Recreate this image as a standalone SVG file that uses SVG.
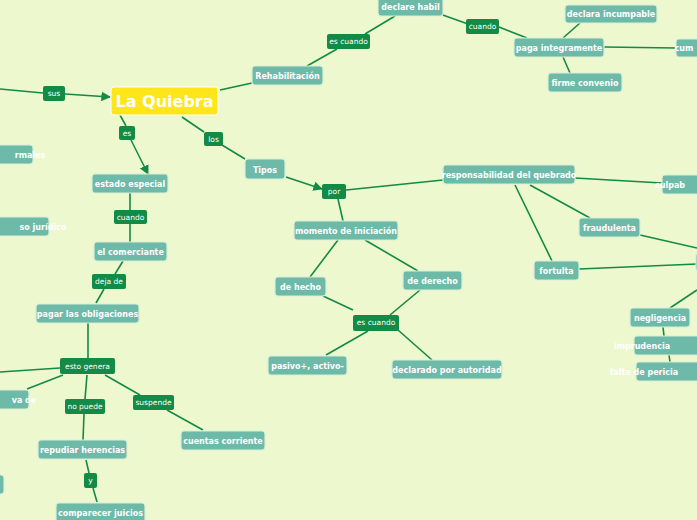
<svg xmlns="http://www.w3.org/2000/svg" width="697" height="520" viewBox="0 0 697 520">
<defs>
<style>
.n{fill:#6dbaa8;stroke:#d8eed8;stroke-width:1.2}
.nt{fill:#fff;font-family:"DejaVu Sans",sans-serif;font-weight:bold;font-size:8px;text-anchor:middle}
.l{fill:#138a45}
.lt{fill:#fff;font-family:"DejaVu Sans",sans-serif;font-size:7.5px;text-anchor:middle}
.c{stroke:#138a45;stroke-width:1.6;fill:none}
</style>
<marker id="a" viewBox="0 0 10 10" refX="9" refY="5" markerWidth="6" markerHeight="6" orient="auto"><path d="M0,0L10,5L0,10z" fill="#138a45"/></marker>
</defs>
<rect width="697" height="520" fill="#eef8cf"/>
<g id="connectors">
<path class="c" d="M0,89L43,93M65,94L110,97" marker-end="url(#a)"/>
<path class="c" d="M120,115L126,126"/><path class="c" d="M131,140L148,174" marker-end="url(#a)"/>
<path class="c" d="M182,117L204,132M222,145L245,159M220,90L252,83"/>
<path class="c" d="M307,66L337,49M365,34L395,16M440,14L468,24M499,27L527,38"/>
<path class="c" d="M563,38L580,23M604,47L676,48M563,57L570,73"/>
<path class="c" d="M286,177L322,189" marker-end="url(#a)"/>
<path class="c" d="M346,190L443,180M338,199L343,221M338,240L310,277M365,240L418,271"/>
<path class="c" d="M323,296L353,310M420,290L390,315M368,331L326,355M398,330L432,360"/>
<path class="c" d="M530,185L590,218M515,185L552,261M575,178L662,183M640,235L697,248M579,269L697,264M697,290L670,308M663,327L664,336M669,355L670,362"/>
<path class="c" d="M130,193L130,210M130,224L130,242M123,261L115,274M104,289L96,303M88,323L88,358"/>
<path class="c" d="M60,368L0,372M63,375L27,389M87,375L85,399M84,414L83,440M105,375L140,395M167,410L203,430M86,460L89,473M93,488L97,502"/>
</g>
<g id="n-quiebra"><rect x="111" y="87" width="107" height="28" rx="3" fill="#ffe619" stroke="#fff"/><text x="164.5" y="107" fill="#fff" font-family="DejaVu Sans,sans-serif" font-weight="bold" font-size="16" text-anchor="middle">La Quiebra</text></g>
<g id="n1"><rect class="n" x="252" y="66" width="71" height="19" rx="3"/><text class="nt" x="287.5" y="79">Rehabilitación</text></g>
<g id="n2"><rect class="n" x="378" y="-3" width="65" height="19" rx="3"/><text class="nt" x="410.5" y="10">declare habil</text></g>
<g id="n3"><rect class="n" x="565" y="5" width="92" height="18" rx="3"/><text class="nt" x="611" y="17">declara incumpable</text></g>
<g id="n4"><rect class="n" x="514" y="38" width="90" height="19" rx="3"/><text class="nt" x="559" y="51">paga integramente</text></g>
<g id="n5"><rect class="n" x="676" y="39" width="30" height="18" rx="3"/><text class="nt" x="684" y="51" text-anchor="start">cum</text></g>
<g id="n6"><rect class="n" x="548" y="73" width="74" height="19" rx="3"/><text class="nt" x="585" y="86">firme convenio</text></g>
<g id="n7"><rect class="n" x="245" y="159" width="40" height="20" rx="3"/><text class="nt" x="265" y="173" font-size="9">Tipos</text></g>
<g id="n8"><rect class="n" x="443" y="165" width="132" height="19" rx="3"/><text class="nt" x="509" y="178">responsabilidad del quebrado</text></g>
<g id="n9"><rect class="n" x="662" y="175" width="45" height="19" rx="3"/><text class="nt" x="670" y="188" text-anchor="start">culpab</text></g>
<g id="n10"><rect class="n" x="579" y="218" width="61" height="19" rx="3"/><text class="nt" x="609.5" y="231">fraudulenta</text></g>
<g id="n11"><rect class="n" x="534" y="261" width="45" height="19" rx="3"/><text class="nt" x="556.5" y="274">fortulta</text></g>
<g id="n12"><rect class="n" x="696" y="253" width="10" height="18" rx="3"/></g>
<g id="n13"><rect class="n" x="630" y="308" width="60" height="19" rx="3"/><text class="nt" x="660" y="321">negligencia</text></g>
<g id="n14"><rect class="n" x="634" y="336" width="70" height="19" rx="3"/><text class="nt" x="642" y="349" text-anchor="start">imprudencia</text></g>
<g id="n15"><rect class="n" x="636" y="362" width="70" height="19" rx="3"/><text class="nt" x="644" y="375" text-anchor="start">falta de pericia</text></g>
<g id="n16"><rect class="n" x="294" y="221" width="104" height="19" rx="3"/><text class="nt" x="346" y="234">momento de iniciación</text></g>
<g id="n17"><rect class="n" x="275" y="277" width="51" height="19" rx="3"/><text class="nt" x="300.5" y="290">de hecho</text></g>
<g id="n18"><rect class="n" x="403" y="271" width="59" height="19" rx="3"/><text class="nt" x="432.5" y="284">de derecho</text></g>
<g id="n19"><rect class="n" x="268" y="356" width="79" height="19" rx="3"/><text class="nt" x="307.5" y="369">pasivo+, activo-</text></g>
<g id="n20"><rect class="n" x="392" y="360" width="110" height="19" rx="3"/><text class="nt" x="447" y="373">declarado por autoridad</text></g>
<g id="n21"><rect class="n" x="92" y="174" width="76" height="19" rx="3"/><text class="nt" x="130" y="187">estado especial</text></g>
<g id="n22"><rect class="n" x="94" y="242" width="73" height="19" rx="3"/><text class="nt" x="130.5" y="255">el comerciante</text></g>
<g id="n23"><rect class="n" x="36" y="304" width="103" height="19" rx="3"/><text class="nt" x="87.5" y="317">pagar las obligaciones</text></g>
<g id="n24"><rect class="n" x="181" y="431" width="84" height="19" rx="3"/><text class="nt" x="223" y="444">cuentas corriente</text></g>
<g id="n25"><rect class="n" x="38" y="440" width="89" height="19" rx="3"/><text class="nt" x="82.5" y="453">repudiar herencias</text></g>
<g id="n26"><rect class="n" x="56" y="503" width="89" height="19" rx="3"/><text class="nt" x="100.5" y="516">comparecer juicios</text></g>
<g id="n27"><rect class="n" x="-10" y="145" width="43" height="19" rx="3"/><text class="nt" x="30" y="158" text-anchor="end">rmales</text></g>
<g id="n28"><rect class="n" x="-10" y="217" width="59" height="19" rx="3"/><text class="nt" x="43" y="230" text-anchor="end">so jurídico</text></g>
<g id="n29"><rect class="n" x="-10" y="390" width="39" height="19" rx="3"/><text class="nt" x="24" y="403" text-anchor="end">va de</text></g>
<g id="n30"><rect class="n" x="-10" y="475" width="14" height="19" rx="3"/></g>
<g id="labels">
<rect class="l" x="43" y="86" width="22" height="15" rx="2"/><text class="lt" x="54" y="96">sus</text>
<rect class="l" x="119" y="126" width="16" height="14" rx="2"/><text class="lt" x="127" y="136">es</text>
<rect class="l" x="204" y="132" width="19" height="14" rx="2"/><text class="lt" x="213.5" y="142">los</text>
<rect class="l" x="327" y="34" width="43" height="15" rx="2"/><text class="lt" x="348.5" y="44">es cuando</text>
<rect class="l" x="466" y="19" width="33" height="15" rx="2"/><text class="lt" x="482.5" y="29">cuando</text>
<rect class="l" x="322" y="184" width="24" height="15" rx="2"/><text class="lt" x="334" y="194" font-size="6">por</text>
<rect class="l" x="114" y="210" width="33" height="14" rx="2"/><text class="lt" x="130.5" y="220">cuando</text>
<rect class="l" x="92" y="274" width="34" height="15" rx="2"/><text class="lt" x="109" y="284">deja de</text>
<rect class="l" x="60" y="358" width="55" height="16" rx="2"/><text class="lt" x="87.5" y="369">esto genera</text>
<rect class="l" x="65" y="399" width="40" height="15" rx="2"/><text class="lt" x="85" y="409">no puede</text>
<rect class="l" x="133" y="395" width="41" height="15" rx="2"/><text class="lt" x="153.5" y="405">suspende</text>
<rect class="l" x="84" y="473" width="13" height="15" rx="2"/><text class="lt" x="90.5" y="483">y</text>
<rect class="l" x="353" y="315" width="46" height="16" rx="2"/><text class="lt" x="376" y="325" font-size="6">es cuando</text>
</g>
</svg>
